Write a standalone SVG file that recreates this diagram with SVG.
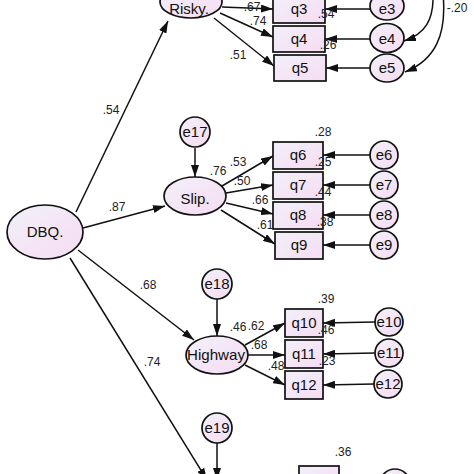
<svg xmlns="http://www.w3.org/2000/svg" width="474" height="474" viewBox="0 0 474 474">
<style>
.n{stroke:#111;stroke-width:1.7;fill:url(#g)}
.t{font-family:"Liberation Sans",Arial,sans-serif;font-size:15px;fill:#111;text-anchor:middle}
.s{font-family:"Liberation Sans",Arial,sans-serif;font-size:12px;fill:#222;text-anchor:middle}
.c line,.c path{stroke:#111;stroke-width:1.5;fill:none;marker-end:url(#a)}
</style>
<defs>
<linearGradient id="g" x1="0" y1="0" x2="1" y2="1">
<stop offset="0" stop-color="#f2f0fa"/>
<stop offset="1" stop-color="#f6dcf2"/>
</linearGradient>
<marker id="a" viewBox="0 0 12 8" refX="12" refY="4" markerWidth="12" markerHeight="8" orient="auto" markerUnits="userSpaceOnUse">
<path d="M0,0 L12,4 L0,8 z" fill="#111"/>
</marker>
</defs>
<rect width="474" height="474" fill="#fff"/>
<g class="c">
<line x1="76" y1="212" x2="168" y2="21"/>
<line x1="83" y1="228" x2="165" y2="206"/>
<line x1="78" y1="250" x2="194" y2="340"/>
<line x1="70" y1="258" x2="207" y2="480"/>
<line x1="195" y1="148" x2="195" y2="177"/>
<line x1="217" y1="299" x2="217" y2="336"/>
<line x1="217" y1="443" x2="217" y2="480"/>
<line x1="222" y1="7" x2="273" y2="9"/>
<line x1="220" y1="13" x2="273" y2="37"/>
<line x1="214" y1="18" x2="274" y2="66"/>
<line x1="222" y1="186" x2="273" y2="156"/>
<line x1="226" y1="193" x2="273" y2="185"/>
<line x1="226" y1="203" x2="273" y2="214"/>
<line x1="221" y1="210" x2="275" y2="244"/>
<line x1="245" y1="345" x2="285" y2="323"/>
<line x1="248" y1="355" x2="285" y2="355"/>
<line x1="245" y1="365" x2="285" y2="385"/>
<line x1="370" y1="9" x2="325" y2="9"/>
<line x1="370" y1="39" x2="325" y2="39"/>
<line x1="370" y1="68" x2="326" y2="68"/>
<line x1="370" y1="155" x2="323" y2="155"/>
<line x1="370" y1="185" x2="323" y2="185"/>
<line x1="370" y1="215" x2="323" y2="215"/>
<line x1="370" y1="245" x2="323" y2="245"/>
<line x1="375" y1="322" x2="323" y2="323"/>
<line x1="375" y1="353" x2="323" y2="354"/>
<line x1="374" y1="384" x2="323" y2="385"/>
<line x1="380" y1="480" x2="340" y2="480"/>
<path d="M433,-6 C434,20 425,34 404,41"/>
<path d="M443,-6 C447,35 435,60 405,72"/>
</g>
<g id="DBQ"><ellipse class="n" cx="45" cy="232" rx="38" ry="27"/><text class="t" x="45" y="237">DBQ.</text></g>
<g id="Risky"><ellipse class="n" cx="191" cy="2" rx="31" ry="16"/><text class="t" x="189" y="14">Risky.</text></g>
<g id="Slip"><ellipse class="n" cx="195" cy="196" rx="31" ry="19"/><text class="t" x="195" y="204">Slip.</text></g>
<g id="Highway"><ellipse class="n" cx="217" cy="355" rx="31" ry="19"/><text class="t" x="216" y="360" textLength="58" lengthAdjust="spacingAndGlyphs">Highway</text></g>
<g id="q3"><rect class="n" x="273" y="-5" width="52" height="28"/><text class="t" x="299" y="14">q3</text></g>
<g id="q4"><rect class="n" x="273" y="26" width="52" height="26"/><text class="t" x="299" y="44">q4</text></g>
<g id="q5"><rect class="n" x="274" y="55" width="52" height="26"/><text class="t" x="300" y="73">q5</text></g>
<g id="q6"><rect class="n" x="273" y="142" width="50" height="27"/><text class="t" x="298" y="160">q6</text></g>
<g id="q7"><rect class="n" x="273" y="172" width="50" height="27"/><text class="t" x="298" y="190">q7</text></g>
<g id="q8"><rect class="n" x="273" y="202" width="50" height="27"/><text class="t" x="298" y="220">q8</text></g>
<g id="q9"><rect class="n" x="275" y="232" width="48" height="27"/><text class="t" x="299" y="250">q9</text></g>
<g id="q10"><rect class="n" x="285" y="309" width="38" height="28"/><text class="t" x="304" y="328">q10</text></g>
<g id="q11"><rect class="n" x="285" y="340" width="38" height="28"/><text class="t" x="304" y="359">q11</text></g>
<g id="q12"><rect class="n" x="285" y="371" width="38" height="28"/><text class="t" x="304" y="390">q12</text></g>
<g id="q13"><rect class="n" x="299" y="466" width="40" height="28"/></g>
<g id="e3"><ellipse class="n" cx="387" cy="6" rx="17" ry="14"/><text class="t" x="387" y="14">e3</text></g>
<g id="e4"><ellipse class="n" cx="387" cy="38" rx="17" ry="14.5"/><text class="t" x="387" y="44">e4</text></g>
<g id="e5"><ellipse class="n" cx="387" cy="68" rx="17" ry="14"/><text class="t" x="387" y="73">e5</text></g>
<g id="e6"><circle class="n" cx="384" cy="155" r="14"/><text class="t" x="384" y="160">e6</text></g>
<g id="e7"><circle class="n" cx="384" cy="185" r="14"/><text class="t" x="384" y="190">e7</text></g>
<g id="e8"><circle class="n" cx="384" cy="215" r="14"/><text class="t" x="384" y="220">e8</text></g>
<g id="e9"><circle class="n" cx="384" cy="245" r="14"/><text class="t" x="384" y="250">e9</text></g>
<g id="e10"><circle class="n" cx="389" cy="322" r="14"/><text class="t" x="389" y="327">e10</text></g>
<g id="e11"><circle class="n" cx="389" cy="353" r="14"/><text class="t" x="389" y="358">e11</text></g>
<g id="e12"><circle class="n" cx="388" cy="384" r="14"/><text class="t" x="388" y="389">e12</text></g>
<g id="e13"><circle class="n" cx="395" cy="484" r="15"/></g>
<g id="e17"><circle class="n" cx="195" cy="132" r="15"/><text class="t" x="195" y="137">e17</text></g>
<g id="e18"><circle class="n" cx="217" cy="284" r="15"/><text class="t" x="217" y="289">e18</text></g>
<g id="e19"><circle class="n" cx="217" cy="428" r="15"/><text class="t" x="217" y="433">e19</text></g>
<g id="labels">
<text class="s" x="111" y="114">.54</text>
<text class="s" x="117" y="211">.87</text>
<text class="s" x="148" y="289">.68</text>
<text class="s" x="152" y="366">.74</text>
<text class="s" x="252" y="11">.67</text>
<text class="s" x="258" y="25">.74</text>
<text class="s" x="238" y="59">.51</text>
<text class="s" x="326" y="18">.54</text>
<text class="s" x="328" y="49">.26</text>
<text class="s" x="457" y="12">-.20</text>
<text class="s" x="218" y="175">.76</text>
<text class="s" x="238" y="166">.53</text>
<text class="s" x="242" y="185">.50</text>
<text class="s" x="260" y="204">.66</text>
<text class="s" x="265" y="229">.61</text>
<text class="s" x="323" y="136">.28</text>
<text class="s" x="323" y="166">.25</text>
<text class="s" x="323" y="196">.44</text>
<text class="s" x="325" y="226">.38</text>
<text class="s" x="238" y="331">.46</text>
<text class="s" x="256" y="330">.62</text>
<text class="s" x="259" y="349">.68</text>
<text class="s" x="276" y="370">.48</text>
<text class="s" x="326" y="303">.39</text>
<text class="s" x="326" y="334">.46</text>
<text class="s" x="327" y="365">.23</text>
<text class="s" x="343" y="456">.36</text>
</g>
</svg>
